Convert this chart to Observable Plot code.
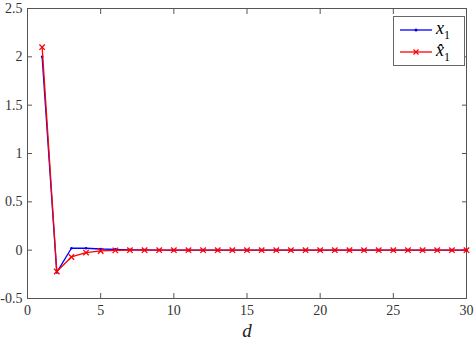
<!DOCTYPE html>
<html><head><meta charset="utf-8">
<script src="https://cdn.jsdelivr.net/npm/d3@7"></script>
<script src="https://cdn.jsdelivr.net/npm/@observablehq/plot@0.6"></script>
<style>
body{margin:0;background:#fff;}
#wrap{position:relative;width:474px;height:342px;font-family:'Liberation Serif','Times New Roman','DejaVu Serif',serif;}
#legend{position:absolute;left:393px;top:16px;width:72px;height:50px;border:1px solid #666;background:#fff;box-sizing:border-box;}
.lg{position:absolute;left:4px;width:66px;height:22px;}
.lg svg{position:absolute;left:0;top:0;}
.lg span{position:absolute;left:38px;font-style:italic;font-size:18px;font-family:'Liberation Serif','DejaVu Serif',serif;}
svg text{font-family:'Liberation Serif','Times New Roman','DejaVu Serif',serif;}
</style></head>
<body><div id="wrap"><div id="chart"></div>
<div id="legend">
<div class="lg" style="top:2px"><svg width="36" height="22"><line x1="2" y1="11" x2="34" y2="11" stroke="#0000ff" stroke-width="1.3"/><circle cx="18" cy="11" r="1.5" fill="#0000ff"/></svg><span style="top:-1px">x<sub style="font-style:normal;font-size:12px">1</sub></span></div>
<div class="lg" style="top:24px"><svg width="36" height="22"><line x1="2" y1="11" x2="34" y2="11" stroke="#ff0000" stroke-width="1.3"/><path d="M15.5,8.5L20.5,13.5M20.5,8.5L15.5,13.5" stroke="#ff0000" stroke-width="1.3"/></svg><span style="top:-1px">x̂<sub style="font-style:normal;font-size:12px">1</sub></span></div>
</div>
</div>
<script>
const d = d3.range(1, 31);
const x1 = [2.0, -0.23, 0.02, 0.02, 0.012, 0.008, 0.004, 0.002, 0.001, 0, 0, 0, 0, 0, 0, 0, 0, 0, 0, 0, 0, 0, 0, 0, 0, 0, 0, 0, 0, 0];
const x1hat = [2.1, -0.22, -0.07, -0.025, -0.008, -0.002, 0, 0, 0, 0, 0, 0, 0, 0, 0, 0, 0, 0, 0, 0, 0, 0, 0, 0, 0, 0, 0, 0, 0, 0];
const xTicks = [0, 5, 10, 15, 20, 25, 30];
const yTicks = [-0.5, 0, 0.5, 1, 1.5, 2, 2.5];

const A = d.map((v, i) => ({d: v, y: x1[i]}));
const B = d.map((v, i) => ({d: v, y: x1hat[i]}));
const axisColor = "#555";
const chart = Plot.plot({
  width: 474, height: 342,
  marginLeft: 27, marginRight: 8, marginTop: 8, marginBottom: 44,
  style: {fontFamily: "'Liberation Serif', 'Times New Roman', serif", fontSize: "14px", color: "#333", background: "#fff"},
  x: {domain: [0, 30], ticks: xTicks, label: null},
  y: {domain: [-0.5, 2.5], ticks: yTicks, label: null},
  marks: [
    Plot.frame({stroke: axisColor}),
    Plot.axisX({ticks: xTicks, tickSize: -5, tickPadding: 12, tickFormat: v => String(v), stroke: axisColor}),
    Plot.axisX({anchor: "top", ticks: xTicks, tickSize: -5, tickFormat: () => "", stroke: axisColor}),
    Plot.axisY({ticks: yTicks, tickSize: -5, tickPadding: 10, tickFormat: v => String(v), stroke: axisColor}),
    Plot.axisY({anchor: "right", ticks: yTicks, tickSize: -5, tickFormat: () => "", stroke: axisColor}),
    Plot.line(A, {x: "d", y: "y", stroke: "#0000ff", strokeWidth: 1.3}),
    Plot.dot(A, {x: "d", y: "y", r: 1.3, fill: "#0000ff", stroke: null}),
    Plot.line(B, {x: "d", y: "y", stroke: "#ff0000", strokeWidth: 1.3}),
    Plot.dot(B, {x: "d", y: "y", symbol: "times", r: 2.6, stroke: "#ff0000", strokeWidth: 1.3}),
    Plot.text(["d"], {frameAnchor: "bottom", dy: 38, fontStyle: "italic", fontSize: 19, fill: "#222"})
  ]
});
document.getElementById("chart").appendChild(chart);
</script>
</body></html>
